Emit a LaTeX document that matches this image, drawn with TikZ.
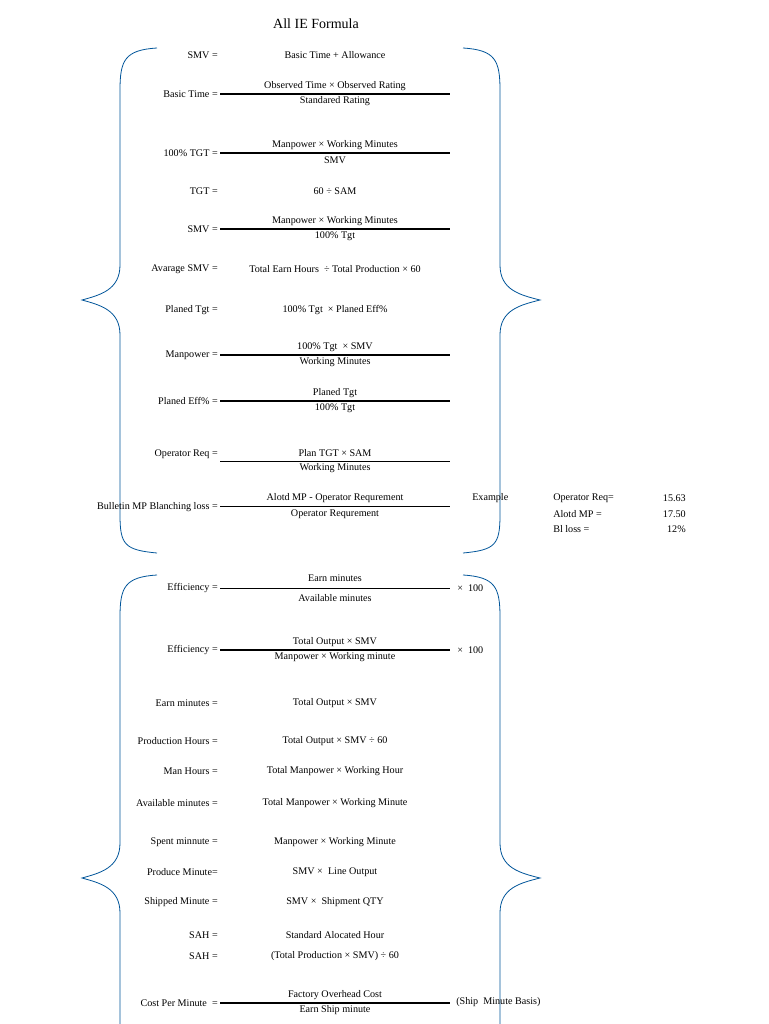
\documentclass[tikz,border=0pt]{standalone}
\usepackage{fontspec}
\setmainfont{Liberation Serif}
\begin{document}
\begin{tikzpicture}[x=0.75pt,y=-0.75pt,
  every node/.style={font=\fontsize{7.6}{9}\selectfont,inner sep=0pt},
  lab/.style={anchor=east},
  txt/.style={anchor=center},
  bar/.style={line width=1pt},
  brace/.style={draw=blue!45!cyan!60!black,line width=0.6pt}]
\useasboundingbox (0,0) rectangle (768,1024);
\newcommand\ieFrac[5]{% name, y, label, num, den
  \node[lab] (#1l) at (218,#2) {#3};
  \coordinate (#1a) at (220,#2); \coordinate (#1b) at (450,#2);
  \draw[bar] (#1a) -- (#1b);
  \node[txt] (#1n) at (335,#2-8) {#4};
  \node[txt] (#1d) at (335,#2+7) {#5};}
\newcommand\ieLine[4]{% name, y, label, text
  \node[lab] (#1l) at (218,#2) {#3};
  \node[txt] (#1t) at (335,#2) {#4};}
\node[font=\fontsize{10.5}{12}\selectfont] (title) at (316,24) {All IE Formula};
% braces
\draw[brace] (157,48) .. controls (125,50) and (120,60) .. (120,90) -- (120,265)
  .. controls (120,290) and (100,295) .. (82,300)
  .. controls (100,305) and (120,310) .. (120,335) -- (120,515)
  .. controls (120,545) and (125,550) .. (157,553);
\draw[brace] (463,48) .. controls (495,50) and (500,60) .. (500,90) -- (500,265)
  .. controls (500,290) and (520,295) .. (540,300)
  .. controls (520,305) and (500,310) .. (500,335) -- (500,515)
  .. controls (500,545) and (495,550) .. (463,553);
\draw[brace] (157,575) .. controls (125,577) and (120,587) .. (120,617) -- (120,843)
  .. controls (120,868) and (100,873) .. (82,878)
  .. controls (100,883) and (120,888) .. (120,913) -- (120,1024);
\draw[brace] (463,575) .. controls (495,577) and (500,587) .. (500,617) -- (500,843)
  .. controls (500,868) and (520,873) .. (540,878)
  .. controls (520,883) and (500,888) .. (500,913) -- (500,1024);
% top section
\ieLine{a}{55}{SMV =}{Basic Time + Allowance}
\ieFrac{b}{94}{Basic Time =}{Observed Time × Observed Rating}{Standared Rating}
\ieFrac{c}{153}{100\% TGT =}{Manpower × Working Minutes}{SMV}
\ieLine{d}{191}{TGT =}{60 ÷ SAM}
\ieFrac{e}{229}{SMV =}{Manpower × Working Minutes}{100\% Tgt}
\ieLine{f}{269}{Avarage SMV =}{Total Earn Hours \ ÷ Total Production × 60}
\ieLine{g}{310}{Planed Tgt =}{100\% Tgt \ × Planed Eff\%}
\ieFrac{h}{355}{Manpower =}{100\% Tgt \ × SMV}{Working Minutes}
\ieFrac{i}{401}{Planed Eff\% =}{Planed Tgt}{100\% Tgt}
\node[lab] (jl) at (218,454) {Operator Req =};
\coordinate (ja) at (220,461); \coordinate (jb) at (450,461);
\draw[line width=0.6pt] (ja) -- (jb);
\node[txt] (jn) at (335,453) {Plan TGT × SAM};
\node[txt] (jd) at (335,468) {Working Minutes};
\node[lab] (kl) at (218,507) {Bulletin MP Blanching loss =};
\coordinate (ka) at (220,506); \coordinate (kb) at (450,506);
\draw[line width=0.6pt] (ka) -- (kb);
\node[txt] (kn) at (335,498) {Alotd MP - Operator Requrement};
\node[txt] (kd) at (335,514) {Operator Requrement};
\node[anchor=west] (ex) at (472,498) {Example};
\node[anchor=west] (e1) at (553,498) {Operator Req=};
\node[anchor=east] (v1) at (686,498) {15.63};
\node[anchor=west] (e2) at (553,514) {Alotd MP =};
\node[anchor=east] (v2) at (686,514) {17.50};
\node[anchor=west] (e3) at (553,529) {Bl loss =};
\node[anchor=east] (v3) at (686,529) {12\%};
% bottom section
\node[lab] (ml) at (218,588) {Efficiency =};
\coordinate (ma) at (220,588); \coordinate (mb) at (450,588);
\draw[line width=0.6pt] (ma) -- (mb);
\node[txt] (mn) at (335,578) {Earn minutes};
\node[txt] (md) at (335,598) {Available minutes};
\node[anchor=west] (mx) at (457,588) {×\ \ 100};
\ieFrac{n}{650}{Efficiency =}{Total Output × SMV}{Manpower × Working minute}
\node[anchor=west] (nx) at (457,650) {×\ \ 100};
\ieLine{o}{703}{Earn minutes =}{Total Output × SMV}
\ieLine{p}{741}{Production Hours =}{Total Output × SMV ÷ 60}
\ieLine{q}{771}{Man Hours =}{Total Manpower × Working Hour}
\ieLine{r}{803}{Available minutes =}{Total Manpower × Working Minute}
\ieLine{s}{842}{Spent minnute =}{Manpower × Working Minute}
\ieLine{t}{872}{Produce Minute=}{SMV × \ Line Output}
\ieLine{u}{902}{Shipped Minute =}{SMV × \ Shipment QTY}
\ieLine{v}{935}{SAH =}{Standard Alocated Hour}
\ieLine{w}{956}{SAH =}{(Total Production × SMV) ÷ 60}
\ieFrac{z}{1003}{Cost Per Minute \ =}{Factory Overhead Cost}{Earn Ship minute}
\node[anchor=west] (zx) at (456,1002) {(Ship \ Minute Basis)};
\end{tikzpicture}
\end{document}
